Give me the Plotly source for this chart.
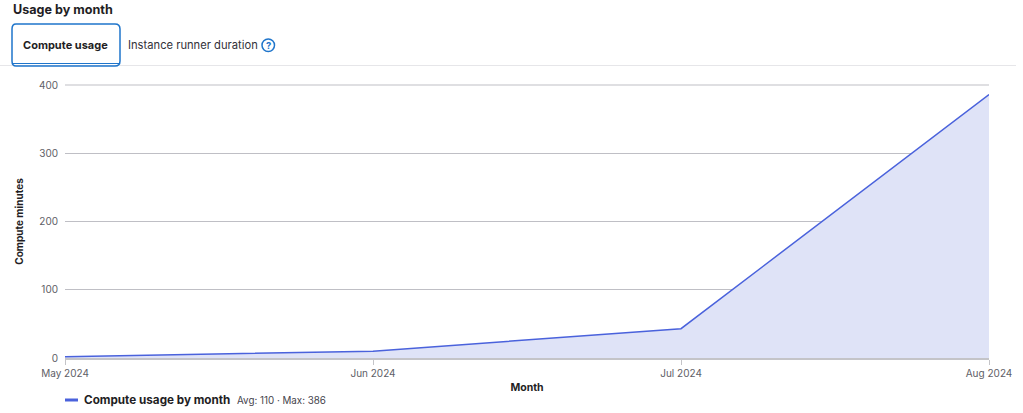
import plotly.graph_objects as go

months = ["May 2024", "Jun 2024", "Jul 2024", "Aug 2024"]
compute_minutes = [2, 10, 43, 386]
y_ticks = [0, 100, 200, 300, 400]

W, H = 1023, 413
L, R, T, B = 65, 989, 85, 358
FONT = "Inter"
LINE = "#4a62dc"


def px(x):
    return (x - L) / (R - L)


def py(y):
    return (B - y) / (B - T)


fig = go.Figure(
    go.Scatter(
        x=months,
        y=compute_minutes,
        mode="lines",
        line=dict(color=LINE, width=1.5),
        fill="tozeroy",
        fillcolor="#dfe3f7",
        name="Compute usage by month",
        cliponaxis=False,
    )
)

fig.update_layout(
    width=W,
    height=H,
    margin=dict(l=L, r=W - R, t=T, b=H - B, autoexpand=False),
    paper_bgcolor="white",
    plot_bgcolor="white",
    showlegend=False,
    font=dict(family=FONT, color="#5e5e66", size=10),
)
fig.update_xaxes(
    type="category",
    categoryorder="array",
    categoryarray=months,
    range=[0, 3],
    showgrid=False,
    showline=True,
    linecolor="#c4c4c8",
    linewidth=2,
    ticks="outside",
    ticklen=5,
    tickcolor="#c4c4c8",
    tickwidth=1,
    tickfont=dict(size=10, color="#5e5e66"),
    title=dict(text="<b>Month</b>", font=dict(size=10.5, color="#1f1e24"), standoff=6),
)
fig.update_yaxes(
    range=[0, 400],
    tickvals=y_ticks,
    showgrid=True,
    gridcolor="#bfbfc5",
    gridwidth=1,
    zeroline=False,
    showline=False,
    ticks="",
    ticklabelstandoff=6,
    tickfont=dict(size=10, color="#5e5e66"),
    title=dict(text="<b>Compute minutes</b>", font=dict(size=10, color="#1f1e24"), standoff=13),
)


def label(text, x, y, size, color, anchor="left"):
    fig.add_annotation(
        text=text, x=px(x), y=py(y), xref="paper", yref="paper",
        xanchor=anchor, yanchor="middle", showarrow=False,
        font=dict(family=FONT, size=size, color=color),
    )


label("<b>Usage by month</b>", 11, 9.5, 12.6, "#1f1e24")
label("<b>Compute usage</b>", 21, 45, 11, "#1f1e24")
label("Instance runner duration", 126, 45, 11.2, "#33323a")
label("<b>?</b>", 268, 45.5, 9.5, "#1f75cb", "center")
label("<b>Compute usage by month</b>", 82, 399.5, 11.7, "#1f1e24")
label("Avg: 110 · Max: 386", 235, 400, 9.8, "#45444c")

paper = dict(xref="paper", yref="paper")
# top gridline, which Plotly drops at the edge of the axis range
fig.add_shape(type="line", x0=0, x1=1, y0=1, y1=1,
              line=dict(color="#bfbfc5", width=1), **paper)
# header rule under the tabs
fig.add_shape(type="line", x0=px(0), x1=px(1016), y0=py(65.5), y1=py(65.5),
              line=dict(color="#e6e6e9", width=1), **paper)
# focused tab outline and its active underline
fig.add_shape(type="path",
              path=(f"M {px(16)} {py(24)} L {px(115)} {py(24)} "
                    f"Q {px(120)} {py(24)} {px(120)} {py(29)} L {px(120)} {py(61)} "
                    f"Q {px(120)} {py(66)} {px(115)} {py(66)} L {px(16)} {py(66)} "
                    f"Q {px(12)} {py(66)} {px(12)} {py(61)} L {px(12)} {py(29)} "
                    f"Q {px(12)} {py(24)} {px(16)} {py(24)} Z"),
              line=dict(color="#1f75cb", width=1.5), fillcolor="rgba(0,0,0,0)", **paper)
fig.add_shape(type="line", x0=px(13), x1=px(119), y0=py(63.5), y1=py(63.5),
              line=dict(color="#1f75cb", width=1), **paper)
# help icon
fig.add_shape(type="circle", x0=px(262), x1=px(274.5), y0=py(39), y1=py(51.5),
              line=dict(color="#1f75cb", width=1.5), **paper)
# legend swatch
fig.add_shape(type="line", x0=px(65), x1=px(78), y0=py(400), y1=py(400),
              line=dict(color=LINE, width=3), **paper)

fig.write_html("out.html", post_script="document.body.style.margin='0';",
               config={"displayModeBar": False})
